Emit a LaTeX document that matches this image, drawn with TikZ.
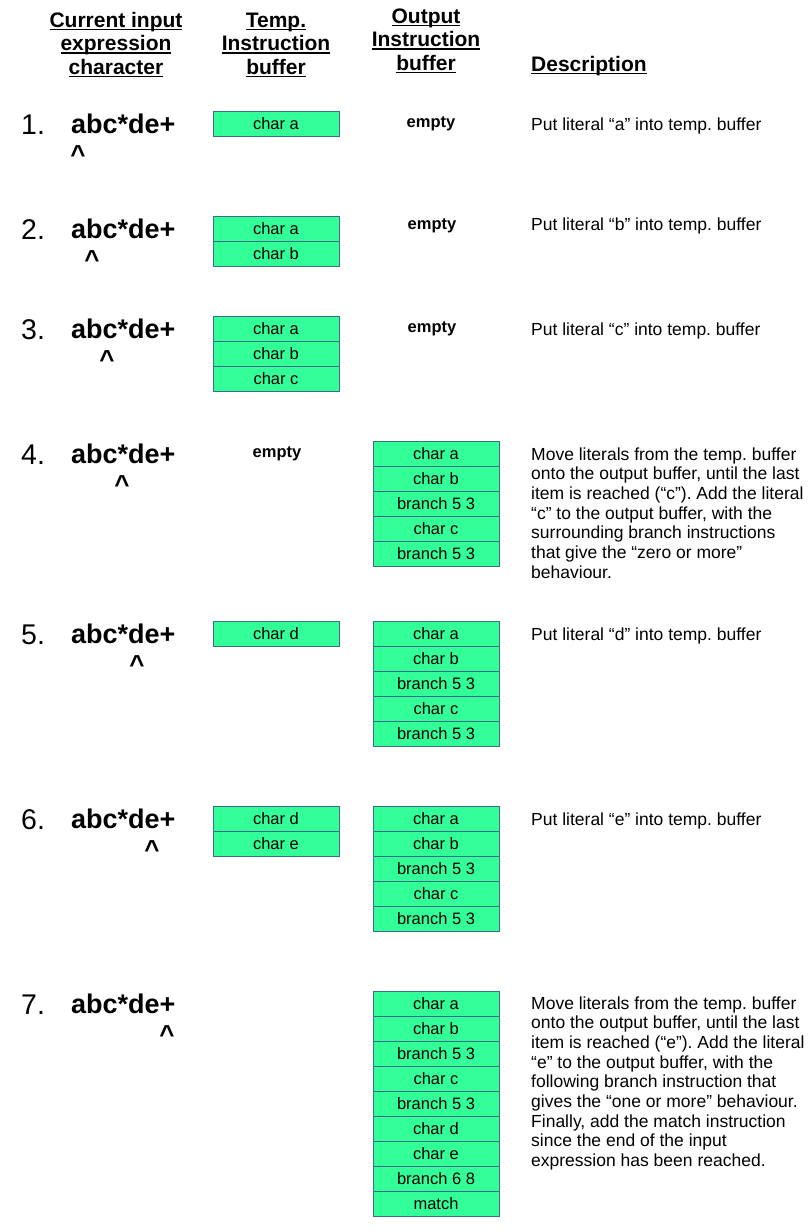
\documentclass[tikz,border=0pt]{standalone}
\usepackage{fontspec}
\setmainfont{Liberation Sans}
\frenchspacing
\definecolor{cellfill}{RGB}{51,255,153}
\definecolor{cellborder}{RGB}{58,110,138}
\newcommand\hul[1]{\setbox0\hbox{#1}\rlap{\rule[-3pt]{\wd0}{1.4pt}}\box0}
\tikzset{
  cell/.style={draw=cellborder, fill=cellfill, line width=1pt, minimum width=126pt,
    minimum height=25pt, inner sep=0pt, anchor=north, font=\fontsize{16.5}{19}\selectfont},
  head/.style={align=center, inner sep=0pt, anchor=base, font=\fontsize{21}{23.5}\selectfont\bfseries},
  stepnum/.style={anchor=base west, inner sep=0pt, font=\fontsize{28.5}{30}\selectfont},
  expr/.style={anchor=base west, inner sep=0pt, font=\fontsize{27}{30}\selectfont\bfseries},
  caret/.style={anchor=base, inner sep=0pt, font=\fontsize{26}{30}\selectfont\bfseries},
  emptytxt/.style={anchor=base, inner sep=0pt, font=\fontsize{16.5}{19}\selectfont\bfseries},
  desc/.style={anchor=base west, inner sep=0pt, align=left, font=\fontsize{17.5}{19.7}\selectfont}
}
\begin{document}
\begin{tikzpicture}[x=1pt,y=-1pt]
\useasboundingbox (0,0) rectangle (809,1232);
% headers (anchor base = last line)
\node[head] (h1) at (116,74) {\hul{Current input}\\\hul{expression}\\\hul{character}};
\node[head] (h2) at (276,74) {\hul{Temp.}\\\hul{Instruction}\\\hul{buffer}};
\node[head] (h3) at (426,70) {\hul{Output}\\\hul{Instruction}\\\hul{buffer}};
\node[head, anchor=base west] (h4) at (531,71) {\hul{Description}};
% step rows
\foreach \n/\ry/\cx in {1/124/78, 2/229/92, 3/329/107, 4/454/122, 5/634/137, 6/819/152, 7/1004/167}{
  \node[stepnum] (num\n) at (21,\ry+10) {\n.};
  \node[expr] (ex\n) at (71,\ry+9.5) {abc*de+};
  \node[caret] (ca\n) at (\cx,\ry+39.5) {\char`\^};
}
% row 1
\node[cell] (t1a) at (276,111) {char a};
\node[emptytxt] (o1) at (431,127) {empty};
\node[desc] (d1) at (531,130) {Put literal “a” into temp. buffer};
% row 2
\node[cell] (t2a) at (276,216) {char a};
\node[cell] (t2b) at (276,241) {char b};
\node[emptytxt] (o2) at (432,229) {empty};
\node[desc] (d2) at (531,230) {Put literal “b” into temp. buffer};
% row 3
\node[cell] (t3a) at (276,316) {char a};
\node[cell] (t3b) at (276,341) {char b};
\node[cell] (t3c) at (276,366) {char c};
\node[emptytxt] (o3) at (432,332) {empty};
\node[desc] (d3) at (531,335) {Put literal “c” into temp. buffer};
% row 4
\node[emptytxt] (t4) at (277,457) {empty};
\foreach \i/\t in {0/char a,1/char b,2/branch 5 3,3/char c,4/branch 5 3}{
  \node[cell] (o4-\i) at (436,441+25*\i) {\t};
}
\node[desc] (d4) at (531,578.2) {Move literals from the temp. buffer\\onto the output buffer, until the last\\item is reached (“c”). Add the literal\\“c” to the output buffer, with the\\surrounding branch instructions\\that give the “zero or more”\\behaviour.};
% row 5
\node[cell] (t5a) at (276,621) {char d};
\foreach \i/\t in {0/char a,1/char b,2/branch 5 3,3/char c,4/branch 5 3}{
  \node[cell] (o5-\i) at (436,621+25*\i) {\t};
}
\node[desc] (d5) at (531,640) {Put literal “d” into temp. buffer};
% row 6
\node[cell] (t6a) at (276,806) {char d};
\node[cell] (t6b) at (276,831) {char e};
\foreach \i/\t in {0/char a,1/char b,2/branch 5 3,3/char c,4/branch 5 3}{
  \node[cell] (o6-\i) at (436,806+25*\i) {\t};
}
\node[desc] (d6) at (531,825) {Put literal “e” into temp. buffer};
% row 7
\foreach \i/\t in {0/char a,1/char b,2/branch 5 3,3/char c,4/branch 5 3,5/char d,6/char e,7/branch 6 8,8/match}{
  \node[cell] (o7-\i) at (436,991+25*\i) {\t};
}
\node[desc] (d7) at (531,1166.6) {Move literals from the temp. buffer\\onto the output buffer, until the last\\item is reached (“e”). Add the literal\\“e” to the output buffer, with the\\following branch instruction that\\gives the “one or more” behaviour.\\Finally, add the match instruction\\since the end of the input\\expression has been reached.};
\end{tikzpicture}
\end{document}
